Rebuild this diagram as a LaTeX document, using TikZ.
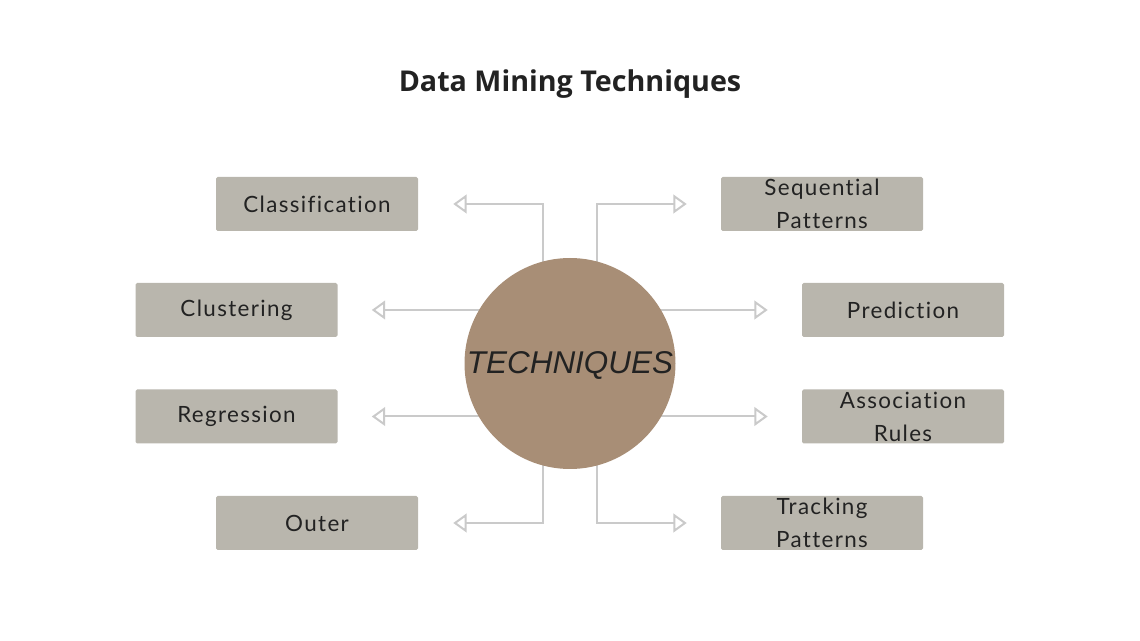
\documentclass[tikz,border=0pt]{standalone}
\usepackage{fontspec}
\setmainfont{Lato}
\newfontfamily\titlefont{Open Sans}
\newfontfamily\boxfont[LetterSpace=6,Ligatures=NoCommon]{Lato}
\newfontfamily\circfont{Liberation Sans}
\usetikzlibrary{calc,arrows.meta}
\definecolor{boxfill}{HTML}{B9B6AD}
\definecolor{circfill}{HTML}{A88E76}
\definecolor{linecol}{HTML}{CACACA}
\definecolor{txt}{HTML}{222222}
\tikzset{
  tbox/.style={fill=boxfill, rounded corners=1.2pt, minimum width=202*0.75pt, minimum height=54*0.75pt,
    inner sep=0pt, align=center, text=txt, font=\boxfont\fontsize{16.8}{24.8}\selectfont},
  conn/.style={draw=linecol, line width=1.5pt, -{Triangle[open, length=10pt, width=14pt, line width=1.5pt]}},
}
\begin{document}
\begin{tikzpicture}[x=0.75pt, y=-0.75pt]
\useasboundingbox (0,0) rectangle (1140,641);
\node[font=\titlefont\bfseries\fontsize{21.5}{24}\selectfont, text=txt] (title) at (570,84) {Data Mining Techniques};

\node[tbox] (cls) at (317,204) {Classification};
\node[tbox] (clu) at (236.5,310) {\raisebox{-1.5pt}{Clustering}};
\node[tbox] (reg) at (236.5,416.5) {\raisebox{-1.5pt}{Regression}};
\node[tbox] (out) at (317,523) {Outer};
\node[tbox] (seq) at (822,204) {Sequential\\Patterns};
\node[tbox] (pre) at (903,310) {\raisebox{-1.5pt}{Prediction}};
\node[tbox] (ass) at (903,416.5) {Association\\Rules};
\node[tbox] (trk) at (822,523) {Tracking\\Patterns};

\coordinate (cc) at (570,363.5);
\draw[conn] ($(cc)+(-27,0)$) |- ($(cls.east)+(35,0)$);
\draw[conn] ($(cc)+(27,0)$) |- ($(seq.west)+(-34,0)$);
\draw[conn] ($(cc)+(-27,0)$) |- ($(out.east)+(35,0)$);
\draw[conn] ($(cc)+(27,0)$) |- ($(trk.west)+(-34,0)$);
\draw[conn] (cc|-clu.east) -- ($(clu.east)+(34,0)$);
\draw[conn] (cc|-reg.east) -- ($(reg.east)+(34,0)$);
\draw[conn] (cc|-pre.west) -- ($(pre.west)+(-34,0)$);
\draw[conn] (cc|-ass.west) -- ($(ass.west)+(-34,0)$);

\node[circle, fill=circfill, minimum size=211*0.75pt, inner sep=0pt, text=txt] (c) at (cc) {};
\node[text=txt, font=\circfont\itshape\fontsize{23.6}{26}\selectfont] (ct) at ($(cc)+(0,2)$) {TECHNIQUES};
\end{tikzpicture}
\end{document}
